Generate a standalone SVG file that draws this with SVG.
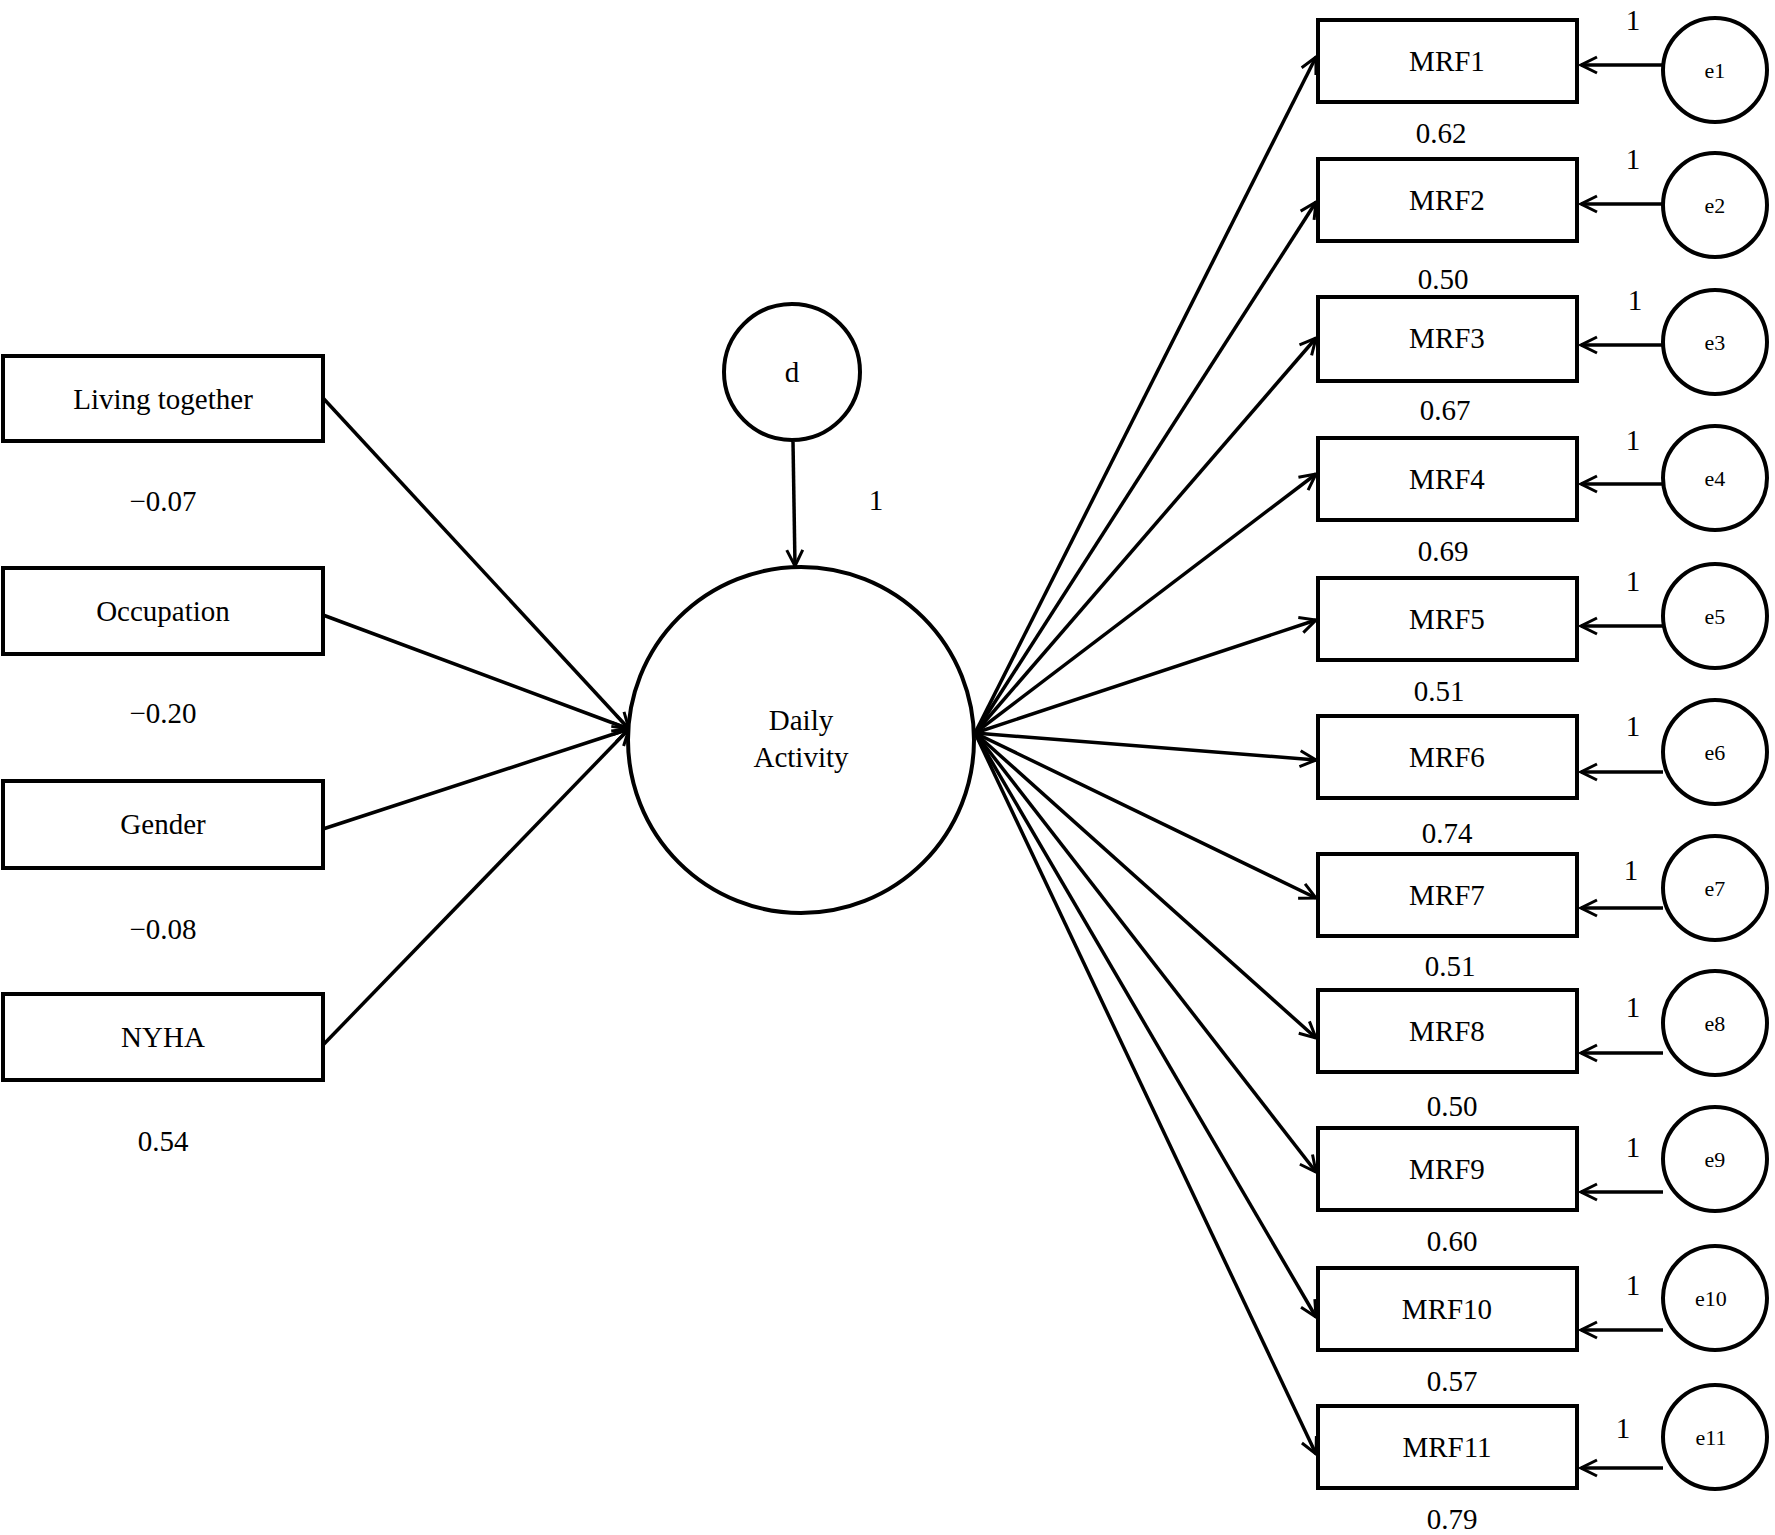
<svg xmlns="http://www.w3.org/2000/svg" width="1775" height="1535" viewBox="0 0 1775 1535">
<defs>
<marker id="ah" viewBox="0 0 20 20" refX="18" refY="10" markerWidth="20" markerHeight="20" markerUnits="userSpaceOnUse" orient="auto">
<path d="M2,2 L18,10 L2,18" fill="none" stroke="#000" stroke-width="3"/>
</marker>
<style>
rect,circle{fill:#fff;stroke:#000;stroke-width:4}
text{font-family:"Liberation Serif",serif;font-size:29px;fill:#000;text-anchor:middle}
.s{font-size:22px}
line{stroke:#000;stroke-width:3.5;marker-end:url(#ah)}
</style>
</defs>
<rect width="1775" height="1535" fill="#fff" style="stroke:none"/>
<g id="connectors">
<line x1="323" y1="398" x2="629" y2="729"/>
<line x1="323" y1="615" x2="629" y2="729"/>
<line x1="323" y1="829" x2="629" y2="729"/>
<line x1="323" y1="1045" x2="629" y2="729"/>
<line x1="793" y1="442" x2="795" y2="566"/>
<line x1="975" y1="733" x2="1316" y2="57"/>
<line x1="975" y1="733" x2="1316" y2="202"/>
<line x1="975" y1="733" x2="1316" y2="338"/>
<line x1="975" y1="733" x2="1316" y2="474"/>
<line x1="975" y1="733" x2="1316" y2="620"/>
<line x1="975" y1="733" x2="1316" y2="760"/>
<line x1="975" y1="733" x2="1316" y2="898"/>
<line x1="975" y1="733" x2="1316" y2="1038"/>
<line x1="975" y1="733" x2="1316" y2="1172"/>
<line x1="975" y1="733" x2="1316" y2="1317"/>
<line x1="975" y1="733" x2="1316" y2="1454"/>
<line x1="1663" y1="65" x2="1581" y2="65"/>
<line x1="1663" y1="204" x2="1581" y2="204"/>
<line x1="1663" y1="345" x2="1581" y2="345"/>
<line x1="1663" y1="484" x2="1581" y2="484"/>
<line x1="1663" y1="626" x2="1581" y2="626"/>
<line x1="1663" y1="772" x2="1581" y2="772"/>
<line x1="1663" y1="908" x2="1581" y2="908"/>
<line x1="1663" y1="1053" x2="1581" y2="1053"/>
<line x1="1663" y1="1192" x2="1581" y2="1192"/>
<line x1="1663" y1="1330" x2="1581" y2="1330"/>
<line x1="1663" y1="1468" x2="1581" y2="1468"/>
</g>
<g id="living"><rect x="3" y="356" width="320" height="85"/><text x="163" y="409">Living together</text></g>
<g id="occupation"><rect x="3" y="568" width="320" height="86"/><text x="163" y="621">Occupation</text></g>
<g id="gender"><rect x="3" y="781" width="320" height="87"/><text x="163" y="834">Gender</text></g>
<g id="nyha"><rect x="3" y="994" width="320" height="86"/><text x="163" y="1047">NYHA</text></g>
<g id="coefs-left">
<text x="163" y="511">−0.07</text><text x="163" y="723">−0.20</text><text x="163" y="939">−0.08</text><text x="163" y="1151">0.54</text>
</g>
<g id="d"><circle cx="792" cy="372" r="68"/><text x="792" y="382">d</text><text x="876" y="510">1</text></g>
<g id="daily"><circle cx="801" cy="740" r="173"/><text x="801" y="730">Daily</text><text x="801" y="767">Activity</text></g>
<g id="mrf1"><rect x="1318" y="20" width="259" height="82"/><text x="1447" y="71">MRF1</text></g>
<g id="mrf2"><rect x="1318" y="159" width="259" height="82"/><text x="1447" y="210">MRF2</text></g>
<g id="mrf3"><rect x="1318" y="297" width="259" height="84"/><text x="1447" y="348">MRF3</text></g>
<g id="mrf4"><rect x="1318" y="438" width="259" height="82"/><text x="1447" y="489">MRF4</text></g>
<g id="mrf5"><rect x="1318" y="578" width="259" height="82"/><text x="1447" y="629">MRF5</text></g>
<g id="mrf6"><rect x="1318" y="716" width="259" height="82"/><text x="1447" y="767">MRF6</text></g>
<g id="mrf7"><rect x="1318" y="854" width="259" height="82"/><text x="1447" y="905">MRF7</text></g>
<g id="mrf8"><rect x="1318" y="990" width="259" height="82"/><text x="1447" y="1041">MRF8</text></g>
<g id="mrf9"><rect x="1318" y="1128" width="259" height="82"/><text x="1447" y="1179">MRF9</text></g>
<g id="mrf10"><rect x="1318" y="1268" width="259" height="82"/><text x="1447" y="1319">MRF10</text></g>
<g id="mrf11"><rect x="1318" y="1406" width="259" height="82"/><text x="1447" y="1457">MRF11</text></g>
<g id="coefs-right">
<text x="1441" y="143">0.62</text><text x="1443" y="289">0.50</text><text x="1445" y="420">0.67</text><text x="1443" y="561">0.69</text><text x="1439" y="701">0.51</text><text x="1447" y="843">0.74</text><text x="1450" y="976">0.51</text><text x="1452" y="1116">0.50</text><text x="1452" y="1251">0.60</text><text x="1452" y="1391">0.57</text><text x="1452" y="1529">0.79</text>
</g>
<g id="e1"><circle cx="1715" cy="70" r="52"/><text class="s" x="1715" y="78">e1</text><text x="1633" y="30">1</text></g>
<g id="e2"><circle cx="1715" cy="205" r="52"/><text class="s" x="1715" y="213">e2</text><text x="1633" y="169">1</text></g>
<g id="e3"><circle cx="1715" cy="342" r="52"/><text class="s" x="1715" y="350">e3</text><text x="1635" y="310">1</text></g>
<g id="e4"><circle cx="1715" cy="478" r="52"/><text class="s" x="1715" y="486">e4</text><text x="1633" y="450">1</text></g>
<g id="e5"><circle cx="1715" cy="616" r="52"/><text class="s" x="1715" y="624">e5</text><text x="1633" y="591">1</text></g>
<g id="e6"><circle cx="1715" cy="752" r="52"/><text class="s" x="1715" y="760">e6</text><text x="1633" y="736">1</text></g>
<g id="e7"><circle cx="1715" cy="888" r="52"/><text class="s" x="1715" y="896">e7</text><text x="1631" y="880">1</text></g>
<g id="e8"><circle cx="1715" cy="1023" r="52"/><text class="s" x="1715" y="1031">e8</text><text x="1633" y="1017">1</text></g>
<g id="e9"><circle cx="1715" cy="1159" r="52"/><text class="s" x="1715" y="1167">e9</text><text x="1633" y="1157">1</text></g>
<g id="e10"><circle cx="1715" cy="1298" r="52"/><text class="s" x="1711" y="1306">e10</text><text x="1633" y="1295">1</text></g>
<g id="e11"><circle cx="1715" cy="1437" r="52"/><text class="s" x="1711" y="1445">e11</text><text x="1623" y="1438">1</text></g>
</svg>
